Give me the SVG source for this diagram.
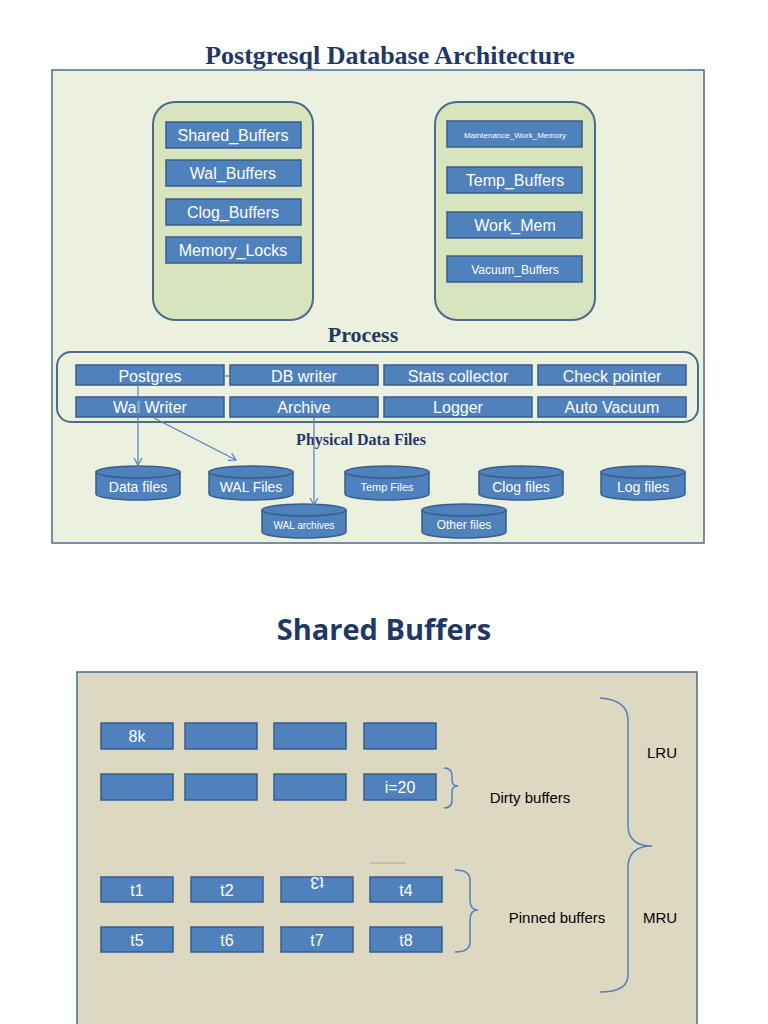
<svg xmlns="http://www.w3.org/2000/svg" width="768" height="1024" viewBox="0 0 768 1024">
<defs>
<style>
.b{fill:#4f81bd;stroke:#385d8a;stroke-width:1.5}
.t{font-family:"Liberation Sans",Arial,sans-serif;fill:#fff;text-anchor:middle}
.k{font-family:"Liberation Sans",Arial,sans-serif;fill:#000;text-anchor:middle;font-size:15px}
.c{stroke:#4f81bd;stroke-width:1.2;fill:none}
.br{stroke:#4f81bd;stroke-width:1.5;fill:none}
</style>
<marker id="a" markerWidth="10" markerHeight="10" refX="8" refY="5" orient="auto" markerUnits="userSpaceOnUse"><path d="M1,1 L8,5 L1,9" fill="none" stroke="#4f81bd" stroke-width="1.2"/></marker>
<g id="cyl"><path d="M-42,6 L-42,28 A42,6 0 0 0 42,28 L42,6 Z" class="b"/><ellipse cx="0" cy="6" rx="42" ry="6" class="b"/></g>
</defs>
<rect width="768" height="1024" fill="#fff"/>
<text x="390" y="64" font-family="Liberation Serif,serif" font-weight="bold" font-size="26" fill="#1f3864" text-anchor="middle">Postgresql Database Architecture</text>
<g id="arch">
<rect x="52" y="70" width="652" height="473" fill="#ebf1de" stroke="#4a6a8f" stroke-width="1.5"/>
<rect x="153" y="102" width="160" height="218" rx="22" fill="#d7e4bd" stroke="#4a6a8f" stroke-width="2"/>
<rect x="435" y="102" width="160" height="218" rx="22" fill="#d7e4bd" stroke="#4a6a8f" stroke-width="2"/>
</g>
<g id="mem1" font-size="16">
<rect class="b" x="166" y="122" width="135" height="26"/><text class="t" x="233" y="141" font-size="16">Shared_Buffers</text>
<rect class="b" x="166" y="160" width="135" height="26"/><text class="t" x="233" y="179" font-size="16">Wal_Buffers</text>
<rect class="b" x="166" y="199" width="135" height="26"/><text class="t" x="233" y="218" font-size="16">Clog_Buffers</text>
<rect class="b" x="166" y="237" width="135" height="26"/><text class="t" x="233" y="256" font-size="16">Memory_Locks</text>
</g>
<g id="mem2">
<rect class="b" x="447" y="121" width="135" height="26"/><text class="t" x="515" y="138" font-size="8">Maintenance_Work_Memory</text>
<rect class="b" x="447" y="167" width="135" height="26"/><text class="t" x="515" y="186" font-size="16">Temp_Buffers</text>
<rect class="b" x="447" y="212" width="135" height="26"/><text class="t" x="515" y="231" font-size="16">Work_Mem</text>
<rect class="b" x="447" y="256" width="135" height="26"/><text class="t" x="515" y="274" font-size="12">Vacuum_Buffers</text>
</g>
<text x="363" y="342" font-family="Liberation Serif,serif" font-weight="bold" font-size="22" fill="#1f3864" text-anchor="middle">Process</text>
<rect x="57" y="352" width="641" height="70" rx="14" fill="none" stroke="#4a6a8f" stroke-width="2"/>
<g id="procs" font-size="16">
<rect class="b" x="76" y="365" width="148" height="20"/><text class="t" x="150" y="382" font-size="16">Postgres</text>
<rect class="b" x="230" y="365" width="148" height="20"/><text class="t" x="304" y="382" font-size="16">DB writer</text>
<rect class="b" x="384" y="365" width="148" height="20"/><text class="t" x="458" y="382" font-size="16">Stats collector</text>
<rect class="b" x="538" y="365" width="148" height="20"/><text class="t" x="612" y="382" font-size="16">Check pointer</text>
<rect class="b" x="76" y="397" width="148" height="20"/><text class="t" x="150" y="413" font-size="16">Wal Writer</text>
<rect class="b" x="230" y="397" width="148" height="20"/><text class="t" x="304" y="413" font-size="16">Archive</text>
<rect class="b" x="384" y="397" width="148" height="20"/><text class="t" x="458" y="413" font-size="16">Logger</text>
<rect class="b" x="538" y="397" width="148" height="20"/><text class="t" x="612" y="413" font-size="16">Auto Vacuum</text>
</g>
<text x="361" y="445" font-family="Liberation Serif,serif" font-weight="bold" font-size="16" fill="#1f3864" text-anchor="middle">Physical Data Files</text>
<g id="files">
<use href="#cyl" x="138" y="466"/><text class="t" x="138" y="492" font-size="14">Data files</text>
<use href="#cyl" x="251" y="466"/><text class="t" x="251" y="492" font-size="14">WAL Files</text>
<use href="#cyl" x="387" y="466"/><text class="t" x="387" y="491" font-size="11">Temp Files</text>
<use href="#cyl" x="521" y="466"/><text class="t" x="521" y="492" font-size="14">Clog files</text>
<use href="#cyl" x="643" y="466"/><text class="t" x="643" y="492" font-size="14">Log files</text>
<use href="#cyl" x="304" y="504"/><text class="t" x="304" y="529" font-size="10">WAL archives</text>
<use href="#cyl" x="464" y="504"/><text class="t" x="464" y="529" font-size="12">Other files</text>
</g>
<g id="connectors">
<path class="c" d="M138,384 L138,465" marker-end="url(#a)"/>
<path class="c" d="M154,418 L236,460" marker-end="url(#a)"/>
<path class="c" d="M314,417 L314,505" marker-end="url(#a)"/>
<path class="c" d="M224,376 L230,376"/>
</g>
<text x="384" y="640" font-family="Open Sans,Liberation Sans,sans-serif" font-weight="bold" font-size="29" fill="#1f3864" text-anchor="middle">Shared Buffers</text>
<g id="sb">
<rect x="77" y="672" width="620" height="360" fill="#ddd8c2" stroke="#4a6a8f" stroke-width="1.5"/>
</g>
<g id="buffers" font-size="16">
<rect class="b" x="101" y="723" width="72" height="26"/><text class="t" x="137" y="742" font-size="16">8k</text>
<rect class="b" x="185" y="723" width="72" height="26"/>
<rect class="b" x="274" y="723" width="72" height="26"/>
<rect class="b" x="364" y="723" width="72" height="26"/>
<rect class="b" x="101" y="774" width="72" height="26"/>
<rect class="b" x="185" y="774" width="72" height="26"/>
<rect class="b" x="274" y="774" width="72" height="26"/>
<rect class="b" x="364" y="774" width="72" height="26"/><text class="t" x="400" y="793" font-size="16">i=20</text>
<rect class="b" x="101" y="877" width="72" height="25"/><text class="t" x="137" y="896" font-size="16">t1</text>
<rect class="b" x="191" y="877" width="72" height="25"/><text class="t" x="227" y="896" font-size="16">t2</text>
<rect class="b" x="281" y="877" width="72" height="25"/><text class="t" transform="rotate(180 317 883)" x="317" y="889" font-size="16">t3</text>
<rect class="b" x="370" y="877" width="72" height="25"/><text class="t" x="406" y="896" font-size="16">t4</text>
<rect class="b" x="101" y="927" width="72" height="25"/><text class="t" x="137" y="946" font-size="16">t5</text>
<rect class="b" x="191" y="927" width="72" height="25"/><text class="t" x="227" y="946" font-size="16">t6</text>
<rect class="b" x="281" y="927" width="72" height="25"/><text class="t" x="317" y="946" font-size="16">t7</text>
<rect class="b" x="370" y="927" width="72" height="25"/><text class="t" x="406" y="946" font-size="16">t8</text>
<path d="M370,863 L405,863" stroke="#999" stroke-width="0.8"/>
</g>
<g id="braces">
<path class="br" d="M444,768 Q452,768 452,776 L452,780 Q452,786 458,786 Q452,786 452,792 L452,800 Q452,808 444,808"/>
<path class="br" d="M455,870 Q470,870 470,880 L470,900 Q470,910 478,910 Q470,910 470,920 L470,942 Q470,952 455,952"/>
<path class="br" d="M600,698 Q628,700 628,720 L628,825 Q628,846 652,846 Q628,846 628,868 L628,975 Q628,992 600,992"/>
</g>
<text class="k" x="530" y="803">Dirty buffers</text>
<text class="k" x="557" y="923">Pinned buffers</text>
<text class="k" x="662" y="758">LRU</text>
<text class="k" x="660" y="923">MRU</text>
</svg>
